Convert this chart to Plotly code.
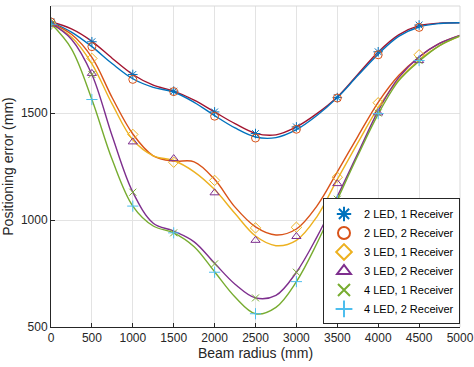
import plotly.graph_objects as go

# Measured points (markers)
mark_x = [0, 500, 1000, 1500, 2000, 2500, 3000, 3500, 4000, 4500]
s1_2led_1rx = [1925, 1833, 1680, 1602, 1505, 1404, 1435, 1572, 1786, 1911]
s2_2led_2rx = [1925, 1810, 1657, 1600, 1485, 1383, 1424, 1570, 1772, 1900]
s3_3led_1rx = [1915, 1755, 1400, 1270, 1185, 963, 966, 1200, 1548, 1772]
s4_3led_2rx = [1915, 1685, 1365, 1287, 1127, 905, 923, 1170, 1500, 1745]
s5_4led_1rx = [1915, 1680, 1130, 940, 795, 636, 756, 1097, 1500, 1745]
s6_4led_2rx = [1915, 1563, 1065, 940, 756, 562, 712, 1093, 1497, 1745]

# Fitted curves
fit_x = [0, 250, 500, 750, 1000, 1250, 1500, 1750, 2000, 2250, 2500,
         2750, 3000, 3250, 3500, 3750, 4000, 4250, 4500, 4750, 5000]
fit1 = [1925, 1893, 1835, 1755, 1680, 1630, 1602, 1560, 1505, 1450, 1405,
        1398, 1435, 1497, 1575, 1680, 1785, 1865, 1908, 1920, 1922]
fit2 = [1925, 1878, 1810, 1730, 1660, 1620, 1598, 1550, 1488, 1430, 1388,
        1385, 1422, 1488, 1572, 1675, 1775, 1858, 1902, 1918, 1922]
fit3 = [1920, 1868, 1760, 1570, 1402, 1300, 1275, 1272, 1190, 1060, 968,
        930, 958, 1065, 1225, 1390, 1550, 1675, 1762, 1825, 1863]
fit4 = [1915, 1855, 1730, 1540, 1375, 1300, 1278, 1225, 1142, 1030, 925,
        880, 905, 1015, 1190, 1360, 1525, 1655, 1748, 1815, 1860]
fit5 = [1920, 1845, 1680, 1390, 1130, 985, 948, 898, 798, 700, 636,
        648, 756, 920, 1110, 1310, 1510, 1665, 1762, 1825, 1863]
fit6 = [1918, 1800, 1563, 1280, 1065, 972, 940, 875, 758, 640, 562,
        592, 712, 890, 1095, 1300, 1495, 1650, 1742, 1815, 1860]

names = ["2 LED, 1 Receiver", "2 LED, 2 Receiver", "3 LED, 1 Receiver",
         "3 LED, 2 Receiver", "4 LED, 1 Receiver", "4 LED, 2 Receiver"]
x_ticks = [0, 500, 1000, 1500, 2000, 2500, 3000, 3500, 4000, 4500, 5000]
y_ticks = [500, 1000, 1500, 2000]

series = [s1_2led_1rx, s2_2led_2rx, s3_3led_1rx, s4_3led_2rx, s5_4led_1rx, s6_4led_2rx]
fits = [fit1, fit2, fit3, fit4, fit5, fit6]
marker_colors = ["#0072BD", "#D95319", "#EDB120", "#7E2F8E", "#77AC30", "#4DBEEE"]
line_colors = ["#A2142F", "#0072BD", "#D95319", "#EDB120", "#7E2F8E", "#77AC30"]
symbols = ["asterisk-open", "circle-open", "diamond-open", "triangle-up-open",
           "x-thin-open", "cross-thin-open"]
sizes = [8, 8, 8, 8, 7, 8]

fig = go.Figure()
for f, c in zip(fits, line_colors):
    fig.add_trace(go.Scatter(x=fit_x, y=f, mode="lines",
                             line=dict(color=c, width=1.4, shape="spline", smoothing=1),
                             showlegend=False, hoverinfo="skip"))
for s, n, c, sym, sz in zip(series, names, marker_colors, symbols, sizes):
    fig.add_trace(go.Scatter(x=mark_x, y=s, mode="markers", name=n,
                             marker=dict(symbol=sym, color=c, size=sz,
                                         line=dict(color=c, width=1))))

font = dict(family="Liberation Sans, Arial, sans-serif", size=12, color="#262626")
fig.update_layout(
    width=474, height=367,
    margin=dict(l=51, r=14, t=6, b=40, autoexpand=False),
    paper_bgcolor="white", plot_bgcolor="white",
    font=font,
    xaxis=dict(range=[0, 5000], tickvals=x_ticks, ticks="inside", ticklen=4,
               tickcolor="#262626", showline=True, linecolor="#262626", linewidth=1,
               showgrid=True, gridcolor="#e3e3e3", gridwidth=1, zeroline=False,
               automargin=False,
               title=dict(text="Beam radius (mm)", standoff=3)),
    yaxis=dict(range=[500, 2000], tickvals=y_ticks, ticks="inside", ticklen=4,
               tickcolor="#262626", showline=True, linecolor="#262626", linewidth=1,
               showgrid=True, gridcolor="#e3e3e3", gridwidth=1, zeroline=False,
               automargin=False,
               title=dict(text="Positioning error (mm)", standoff=4)),
    legend=dict(x=1, y=0.008, xanchor="right", yanchor="bottom",
                bgcolor="white", bordercolor="#262626", borderwidth=1,
                font=dict(family="Liberation Sans, Arial, sans-serif", size=11, color="#000000"),
                tracegroupgap=0, itemsizing="constant", itemwidth=30),
    shapes=[dict(type="line", xref="paper", yref="paper", x0=0, x1=1, y0=1, y1=1,
                 line=dict(color="#d9d9d9", width=1)),
            dict(type="line", xref="paper", yref="paper", x0=1, x1=1, y0=0, y1=1,
                 line=dict(color="#d9d9d9", width=1))],
)
fig.write_html("out.html", config={"displayModeBar": False},
               post_script="document.body.style.margin='0';")
